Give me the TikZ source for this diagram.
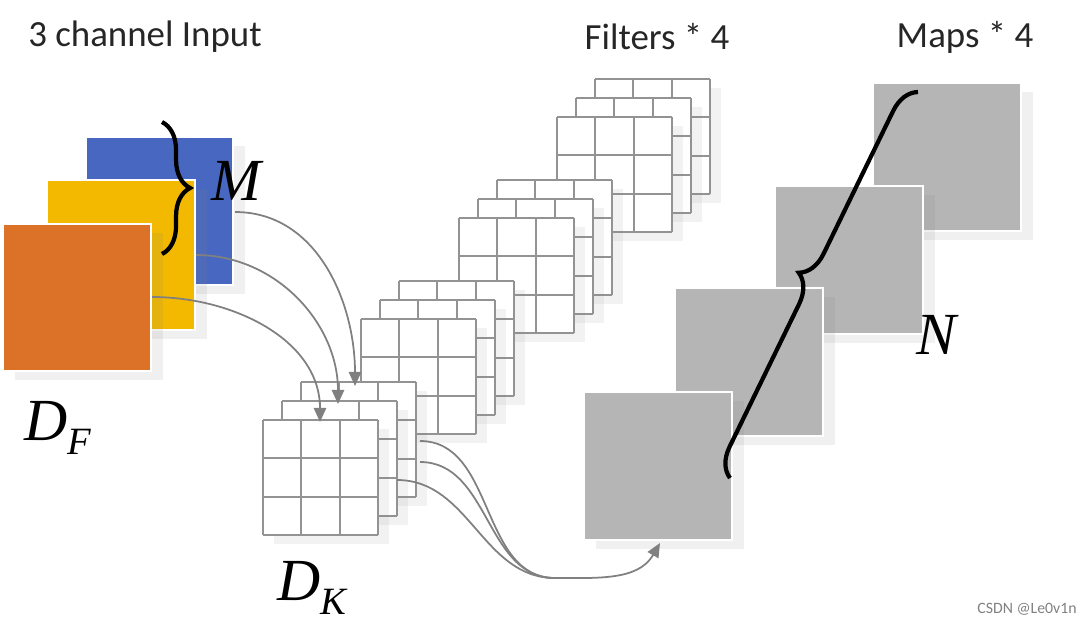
\documentclass[tikz,border=0pt]{standalone}
\usepackage{fontspec}
\setmainfont{Carlito}
\newfontfamily\serifit{Liberation Serif}[ItalicFont=* Italic]
\usetikzlibrary{shadows,decorations.pathreplacing,arrows.meta}
\tikzset{
  plane/.style={draw=white,line width=1.2pt,drop shadow={shadow xshift=7pt,shadow yshift=-5pt,opacity=0.12}},
  cell/.style={draw=gray!85,line width=1.1pt},
  link/.style={draw=gray,line width=1pt,-{Triangle[length=8pt,width=7pt]}},
  brace/.style={line width=2.4pt,decorate,decoration={brace,amplitude=16pt,aspect=0.5}},
  title/.style={font=\fontsize{21}{24}\selectfont,text=black!85},
  sym/.style={font=\serifit\itshape\fontsize{34}{36}\selectfont}
}
\begin{document}
\begin{tikzpicture}[x=0.02cm,y=-0.02cm]
\useasboundingbox (0,0) rectangle (1084,623);

% input channels
\fill[plane,fill={rgb,255:red,72;green,103;blue,192}] (86,137) rectangle (233,285);
\fill[plane,fill={rgb,255:red,242;green,185;blue,0}] (47,180) rectangle (195,330);
\fill[plane,fill={rgb,255:red,220;green,114;blue,40}] (3,224) rectangle (151,371);
\coordinate (inB) at (235,212);
\coordinate (inY) at (196,255);
\coordinate (inO) at (152,297);

% filters
\foreach \g in {3,2,1,0}{
  \foreach \k in {2,1,0}{
    \pgfmathsetmacro{\ox}{263+98*\g+19*\k}
    \pgfmathsetmacro{\oy}{420-101*\g-19*\k}
    \fill[white,drop shadow={shadow xshift=6pt,shadow yshift=-5pt,opacity=0.1}] (\ox,\oy) rectangle ++(115,115);
    \foreach \i in {0,1,2,3}{
      \draw[cell] (\ox+38.33*\i,\oy) -- ++(0,115);
      \draw[cell] (\ox,\oy+38.33*\i) -- ++(115,0);
    }
  }
}
\coordinate (fA) at (355,386);
\coordinate (fB) at (338,404);
\coordinate (fC) at (320,422);
\coordinate (oA) at (420,441);
\coordinate (oB) at (420,462);
\coordinate (oC) at (397,480);
\coordinate (mid) at (555,578);
\coordinate (tip) at (660,543);

% maps
\foreach \x/\y in {873/83,775/186,675/288,584/392}{
  \fill[plane,fill=gray!58] (\x,\y) rectangle ++(148,148);
}

% connectors
\draw[link] (inB) to[out=0,in=90] (fA);
\draw[link] (inY) to[out=0,in=90] (fB);
\draw[link] (inO) to[out=0,in=90] (fC);
\draw[draw=gray,line width=1pt] (oA) to[out=0,in=180] (mid);
\draw[draw=gray,line width=1pt] (oB) to[out=0,in=180] (mid);
\draw[draw=gray,line width=1pt] (oC) to[out=0,in=180] (mid);
\draw[link] (mid) to[out=0,in=240] (tip);

% braces
\draw[brace] (162,122) -- (162,254);
\draw[brace] (730,478) -- (918,92);

% labels
\node[title] (tIn) at (145,37) {3 channel Input};
\node[title] (tF) at (657,37) {Filters * 4};
\node[title] (tM) at (965,37) {Maps * 4};
\node[sym] (lM) at (236,181) {M};
\node[sym] (lN) at (936,335) {N};
\node[sym] (lDF) at (58,428) {D\raisebox{-8pt}{\fontsize{22}{24}\selectfont F}};
\node[sym] (lDK) at (312,588) {D\raisebox{-8pt}{\fontsize{22}{24}\selectfont K}};
\node[font=\fontsize{9}{10}\selectfont,text=gray] (wm) at (1027,609) {CSDN @Le0v1n};
\end{tikzpicture}
\end{document}
